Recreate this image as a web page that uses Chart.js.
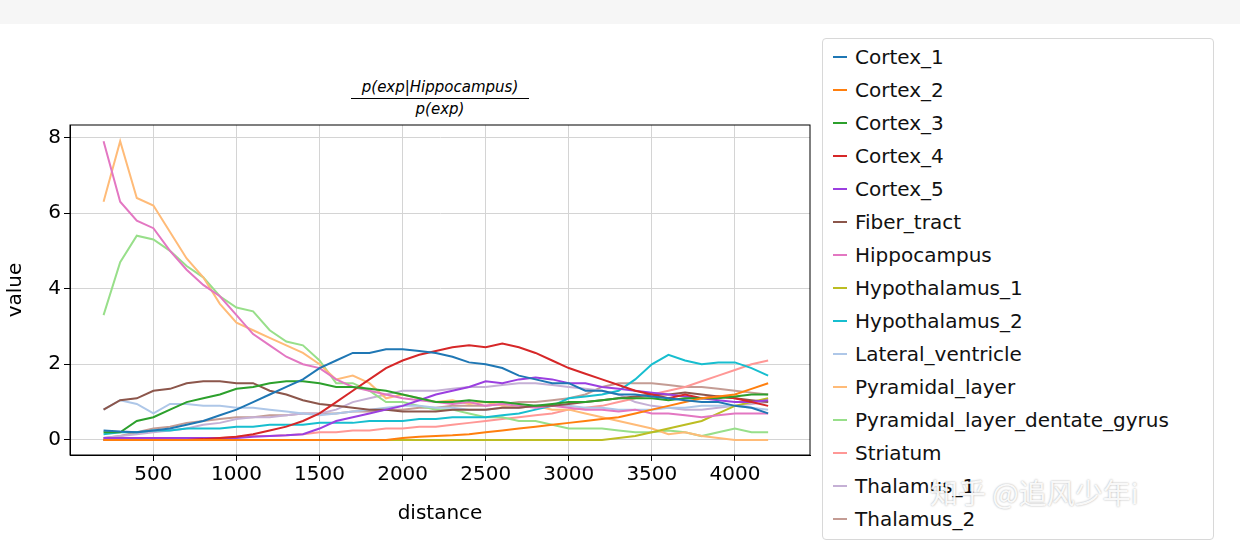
<!DOCTYPE html>
<html>
<head>
<meta charset="utf-8">
<script src="https://cdn.jsdelivr.net/npm/chart.js@4/dist/chart.umd.min.js"></script>
<style>
  body { margin: 0; width: 1240px; height: 542px; background: #fff; font-family: 'DejaVu Sans', sans-serif; position: relative; overflow: hidden; }
  #topband { position: absolute; left: 0; top: 0; width: 1240px; height: 24px; background: #f6f6f6; }
  #wrap { position: absolute; left: 0; top: 110px; width: 815px; height: 420px; }
  #title { position: absolute; left: 345px; width: 190px; top: 78px; text-align: center; font-size: 15px; font-style: italic; }
  #title .num { display: block; padding-bottom: 2px; }
  #title .den { display: block; border-top: 1px solid #000; padding-top: 1px; margin: 0 6px; }
  #legend { position: absolute; left: 822px; top: 38px; width: 392px; height: 502px; border: 1px solid #d8d8d8; border-radius: 4px; box-sizing: border-box; padding: 1px 0 0 10px; }
  .item { height: 33px; display: flex; align-items: center; font-size: 20px; color: #111; }
  .sw { width: 14px; height: 2px; margin-right: 8px; }
  #wm { position: absolute; left: 930px; top: 472px; font-size: 28px; color: rgba(255,255,255,0.92); text-shadow: 0 0 2px rgba(0,0,0,0.35); font-family: 'Noto Sans CJK SC', sans-serif; }
</style>
</head>
<body>
<div id="topband"></div>
<div id="title"><span class="num">p(exp|Hippocampus)</span><span class="den">p(exp)</span></div>
<div id="wrap"><canvas id="c"></canvas></div>
<div id="legend"></div>
<div id="wm">知乎 @追风少年i</div>
<script>
const distances = [200,300,400,500,600,700,800,900,1000,1100,1200,1300,1400,1500,1600,1700,1800,1900,2000,2100,2200,2300,2400,2500,2600,2700,2800,2900,3000,3100,3200,3300,3400,3500,3600,3700,3800,3900,4000,4100,4200];
const xTicks = [500,1000,1500,2000,2500,3000,3500,4000];
const yTicks = [0,2,4,6,8];

const seriesNames = ['Cortex_1','Cortex_2','Cortex_3','Cortex_4','Cortex_5','Fiber_tract','Hippocampus','Hypothalamus_1','Hypothalamus_2','Lateral_ventricle','Pyramidal_layer','Pyramidal_layer_dentate_gyrus','Striatum','Thalamus_1','Thalamus_2'];
const seriesColors = ['#1f77b4','#ff7f0e','#2ca02c','#d62728','#9b3fe0','#8c564b','#e377c2','#bcbd22','#17becf','#aec7e8','#ffbb78','#98df8a','#ff9896','#c5b0d5','#c49c94'];

const cortex1 = [0.25,0.22,0.2,0.25,0.3,0.4,0.5,0.65,0.8,1.0, 1.2,1.4,1.6,1.9,2.1,2.3,2.3,2.4,2.4,2.35, 2.3,2.2,2.05,2.0,1.9,1.7,1.6,1.5,1.5,1.3, 1.3,1.2,1.2,1.15,1.1,1.05,1.0,1.0,0.9,0.85, 0.7];
const cortex2 = [0,0,0,0,0,0,0,0,0,0, 0,0,0,0,0,0,0,0,0.05,0.08, 0.1,0.12,0.15,0.2,0.25,0.3,0.35,0.4,0.45,0.5, 0.55,0.6,0.7,0.8,0.9,1.0,1.1,1.15,1.2,1.35, 1.5];
const cortex3 = [0.2,0.2,0.5,0.6,0.8,1.0,1.1,1.2,1.35,1.4, 1.5,1.55,1.55,1.5,1.4,1.4,1.35,1.3,1.2,1.1, 1.0,1.0,1.05,1.0,1.0,0.95,0.9,0.95,1.0,1.0, 1.05,1.1,1.1,1.1,1.05,1.1,1.1,1.1,1.15,1.2, 1.2];
const cortex4 = [0,0,0,0,0,0,0.02,0.05,0.08,0.15, 0.25,0.35,0.5,0.7,1.0,1.3,1.6,1.9,2.1,2.25, 2.35,2.45,2.5,2.45,2.55,2.45,2.3,2.1,1.9,1.75, 1.6,1.45,1.3,1.2,1.1,1.2,1.1,1.15,1.1,1.0, 0.9];
const cortex5 = [0.05,0.05,0.05,0.05,0.05,0.05,0.05,0.05,0.05,0.08, 0.1,0.12,0.15,0.3,0.5,0.6,0.7,0.8,0.9,1.05, 1.2,1.3,1.4,1.55,1.5,1.6,1.65,1.6,1.5,1.5, 1.4,1.35,1.3,1.25,1.2,1.15,1.1,1.05,1.0,1.0, 1.05];
const fiberTract = [0.8,1.05,1.1,1.3,1.35,1.5,1.55,1.55,1.5,1.5, 1.3,1.2,1.05,0.95,0.9,0.85,0.8,0.8,0.75,0.75, 0.75,0.8,0.8,0.8,0.85,0.85,0.9,0.9,0.95,1.0, 1.05,1.1,1.15,1.2,1.2,1.25,1.2,1.15,1.1,1.05, 1.0];
const hippocampus = [7.9,6.3,5.8,5.6,5.0,4.5,4.1,3.8,3.3,2.8, 2.5,2.2,2.0,1.9,1.6,1.4,1.3,1.2,1.1,1.05, 1.0,0.95,1.0,0.9,0.95,0.9,0.85,0.9,0.85,0.8, 0.8,0.75,0.8,0.7,0.7,0.65,0.6,0.65,0.7,0.7, 0.7];
const hypothalamus1 = [0,0,0,0,0,0,0,0,0,0, 0,0,0,0,0,0,0,0,0,0, 0,0,0,0,0,0,0,0,0,0, 0,0.05,0.1,0.2,0.3,0.4,0.5,0.7,0.9,1.0, 1.1];
const hypothalamus2 = [0.15,0.2,0.2,0.25,0.25,0.3,0.3,0.3,0.35,0.35, 0.4,0.4,0.4,0.45,0.45,0.45,0.5,0.5,0.5,0.55, 0.55,0.6,0.6,0.6,0.65,0.7,0.8,0.9,1.1,1.15, 1.2,1.3,1.6,2.0,2.25,2.1,2.0,2.05,2.05,1.9, 1.7];
const lateralVentricle = [0.8,1.05,0.95,0.7,0.95,0.95,0.9,0.9,0.85,0.85, 0.8,0.75,0.7,0.65,0.7,0.75,0.8,0.85,0.9,0.9, 0.85,0.85,0.8,0.8,0.85,0.85,0.9,0.9,0.9,0.85, 0.85,0.8,0.8,0.8,0.85,0.85,0.9,0.9,0.9,0.85, 0.8];
const pyramidal = [6.3,7.9,6.4,6.2,5.5,4.8,4.3,3.6,3.1,2.9, 2.7,2.5,2.3,2.0,1.6,1.7,1.5,1.1,1.2,1.1, 1.0,1.05,0.95,1.0,0.9,0.85,0.9,0.8,0.8,0.7, 0.6,0.5,0.4,0.3,0.15,0.2,0.1,0.05,0.0,0.0, 0.0];
const pyramidalDG = [3.3,4.7,5.4,5.3,5.0,4.6,4.3,3.8,3.5,3.4, 2.9,2.6,2.5,2.1,1.5,1.5,1.3,1.0,1.0,0.9, 0.8,0.8,0.7,0.6,0.6,0.5,0.5,0.4,0.3,0.3, 0.3,0.25,0.2,0.2,0.25,0.2,0.1,0.2,0.3,0.2, 0.2];
const striatum = [0.05,0.05,0.05,0.05,0.05,0.05,0.05,0.05,0.08,0.1, 0.1,0.12,0.15,0.2,0.2,0.25,0.25,0.3,0.3,0.35, 0.35,0.4,0.45,0.5,0.55,0.6,0.65,0.7,0.8,0.85, 0.9,1.0,1.1,1.2,1.3,1.4,1.55,1.7,1.85,2.0, 2.1];
const thalamus1 = [0.05,0.1,0.15,0.2,0.25,0.3,0.4,0.45,0.55,0.6, 0.6,0.65,0.7,0.7,0.8,1.0,1.1,1.2,1.3,1.3, 1.3,1.35,1.4,1.4,1.45,1.5,1.5,1.45,1.4,1.35, 1.3,1.2,1.0,0.9,0.85,0.8,0.8,0.85,0.9,0.95, 1.0];
const thalamus2 = [0.05,0.1,0.2,0.3,0.35,0.45,0.5,0.55,0.6,0.6, 0.65,0.65,0.7,0.7,0.7,0.75,0.75,0.8,0.8,0.85, 0.85,0.9,0.9,0.9,0.95,1.0,1.0,1.05,1.1,1.2, 1.4,1.5,1.5,1.5,1.45,1.4,1.4,1.35,1.3,1.25, 1.2];

const seriesValues = [cortex1,cortex2,cortex3,cortex4,cortex5,fiberTract,hippocampus,hypothalamus1,hypothalamus2,lateralVentricle,pyramidal,pyramidalDG,striatum,thalamus1,thalamus2];

const font = { family: 'DejaVu Sans', size: 20 };

const datasets = seriesNames.map((name, i) => ({
  label: name,
  data: distances.map((d, j) => ({ x: d, y: seriesValues[i][j] })),
  borderColor: seriesColors[i],
  borderWidth: 2,
  pointRadius: 0,
  tension: 0,
  fill: false,
}));

new Chart(document.getElementById('c'), {
  type: 'line',
  data: { datasets },
  options: {
    responsive: true,
    maintainAspectRatio: false,
    animation: false,
    layout: { padding: { top: 15, right: 5, left: 0, bottom: 0 } },
    plugins: { legend: { display: false }, tooltip: { enabled: false } },
    scales: {
      x: {
        type: 'linear', min: -2, max: 4452,
        afterBuildTicks: (s) => { s.ticks = xTicks.map(v => ({ value: v })); },
        afterFit: (s) => { s.height = 75; },
        ticks: { color: '#000', font, maxRotation: 0, padding: 2, callback: (v) => String(v) },
        grid: { color: '#d4d4d4', tickColor: '#000', tickLength: 6 },
        border: { color: '#000', width: 1 },
        title: { display: true, text: 'distance', color: '#000', font, padding: { top: 0 } },
      },
      y: {
        min: -0.4, max: 8.33,
        afterBuildTicks: (s) => { s.ticks = yTicks.map(v => ({ value: v })); },
        afterFit: (s) => { s.width = 70; },
        ticks: { color: '#000', font },
        grid: { color: '#d4d4d4', tickColor: '#000', tickLength: 6 },
        border: { color: '#000', width: 1 },
        title: { display: true, text: 'value', color: '#000', font, padding: { bottom: 2 } },
      },
    },
  },
  plugins: [{
    id: 'frame',
    afterDraw(chart) {
      const { ctx, chartArea: a } = chart;
      ctx.save();
      ctx.strokeStyle = '#000';
      ctx.lineWidth = 1;
      ctx.strokeRect(a.left, a.top, a.right - a.left, a.bottom - a.top);
      ctx.restore();
    },
  }],
});

const legend = document.getElementById('legend');
seriesNames.forEach((name, i) => {
  const row = document.createElement('div');
  row.className = 'item';
  row.innerHTML = `<span class="sw" style="background:${seriesColors[i]}"></span>${name}`;
  legend.appendChild(row);
});
</script>
</body>
</html>
